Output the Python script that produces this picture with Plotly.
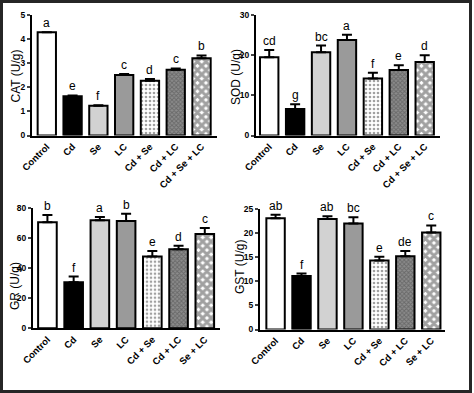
import plotly.graph_objects as go

W, H = 474, 393

cats_a = ["Control", "Cd", "Se", "LC", "Cd + Se", "Cd + LC", "Cd + Se + LC"]
cats_b = ["Control", "Cd", "Se", "LC", "Cd + Se", "Cd + LC", "Se + LC"]

cat_vals = [4.28, 1.63, 1.23, 2.51, 2.27, 2.73, 3.21]
cat_err = [0.0, 0.03, 0.03, 0.04, 0.07, 0.05, 0.11]
cat_let = ["a", "e", "f", "c", "d", "c", "b"]

sod_vals = [19.5, 6.6, 20.7, 23.8, 14.2, 16.3, 18.3]
sod_err = [1.8, 1.2, 1.7, 1.3, 1.4, 1.2, 1.7]
sod_let = ["cd", "g", "bc", "a", "f", "e", "d"]

gr_vals = [70.3, 30.5, 71.6, 71.2, 47.7, 52.4, 62.5]
gr_err = [4.8, 3.8, 2.2, 4.8, 3.6, 2.4, 4.0]
gr_let = ["b", "f", "a", "b", "e", "d", "c"]

gst_vals = [23.1, 11.1, 22.9, 22.0, 14.3, 15.2, 20.1]
gst_err = [0.7, 0.5, 0.6, 1.3, 0.8, 1.1, 1.5]
gst_let = ["ab", "f", "ab", "bc", "e", "de", "c"]

FONT = "Liberation Sans, Arial, sans-serif"

fills = ["#ffffff", "#000000", "#d2d2d2", "#9a9a9a", "#ffffff", "#8c8c8c", "#ffffff"]
pat_shapes = ["", "", "", "", ".", "x", "x"]
pat_fg = ["#000", "#000", "#000", "#000", "#8a8a8a", "#303030", "#000000"]
pat_size = [8, 8, 8, 8, 4, 3, 6]
pat_sol = [0.3, 0.3, 0.3, 0.3, 0.35, 0.5, 0.75]

panels = [
    dict(cats=cats_a, vals=cat_vals, err=cat_err, let=cat_let, title="CAT (U/g)",
         xd=(32, 217), yd=(135.5, 15), xr=(-0.574, 6.60), yr=(0, 5), dt=1,
         tpos=(15.5, 76)),
    dict(cats=cats_a, vals=sod_vals, err=sod_err, let=sod_let, title="SOD (U/g)",
         xd=(256, 440), yd=(135.5, 15), xr=(-0.51, 6.59), yr=(0, 30), dt=10,
         tpos=(236, 77)),
    dict(cats=cats_b, vals=gr_vals, err=gr_err, let=gr_let, title="GR (U/g)",
         xd=(33, 220), yd=(328.3, 207.7), xr=(-0.55, 6.58), yr=(0, 80), dt=20,
         tpos=(15, 286)),
    dict(cats=cats_b, vals=gst_vals, err=gst_err, let=gst_let, title="GST (U/g)",
         xd=(260, 445), yd=(329.5, 209), xr=(-0.6, 6.53), yr=(0, 25), dt=5,
         tpos=(240, 267)),
]

fig = go.Figure()
layout = dict(
    template="none",
    width=W, height=H, margin=dict(l=0, r=0, t=0, b=0, pad=0), autosize=False,
    paper_bgcolor="white", plot_bgcolor="white", showlegend=False,
    font=dict(family=FONT, color="black"),
    annotations=[], shapes=[],
)

for i, p in enumerate(panels):
    n = "" if i == 0 else str(i + 1)
    xa, ya = "x" + n, "y" + n
    fig.add_trace(go.Bar(
        x=p["cats"], y=p["vals"], xaxis=xa, yaxis=ya, width=0.71,
        marker=dict(
            color=fills,
            line=dict(color="black", width=2),
            pattern=dict(shape=pat_shapes, fgcolor=pat_fg, size=pat_size,
                         solidity=pat_sol, fillmode="overlay"),
        ),
        error_y=dict(type="data", symmetric=False, array=p["err"],
                     arrayminus=[0] * 7, color="black", thickness=2, width=5),
        hoverinfo="skip",
    ))
    layout["xaxis" + n] = dict(
        domain=[p["xd"][0] / W, p["xd"][1] / W], anchor=ya, automargin=False,
        range=list(p["xr"]), showline=True, linewidth=2, linecolor="black",
        ticks="", tickangle=-45, showgrid=False, zeroline=False,
        tickfont=dict(size=9.5, family=FONT, weight="bold"),
        categoryorder="array", categoryarray=p["cats"],
    )
    layout["yaxis" + n] = dict(
        domain=[(H - p["yd"][0]) / H, (H - p["yd"][1]) / H], anchor=xa,
        automargin=False,
        range=list(p["yr"]), dtick=p["dt"], showline=True, linewidth=2,
        linecolor="black", ticks="outside", ticklen=3, tickwidth=2,
        showgrid=False, zeroline=False,
        tickfont=dict(size=8.5, family=FONT, weight="bold"),
    )
    layout["annotations"].append(dict(
        text=p["title"], x=p["tpos"][0] / W, y=(H - p["tpos"][1]) / H,
        xref="paper", yref="paper", textangle=-90, showarrow=False,
        font=dict(size=12, family=FONT), xanchor="center", yanchor="middle",
    ))
    for c, v, e, l in zip(p["cats"], p["vals"], p["err"], p["let"]):
        layout["annotations"].append(dict(
            text=l, x=c, y=v + e, xref=xa, yref=ya, showarrow=False,
            yanchor="bottom", yshift=0, font=dict(size=12, family=FONT),
        ))

layout["shapes"].append(dict(
    type="rect", xref="paper", yref="paper",
    x0=1.5 / W, x1=470.5 / W, y0=1.5 / H, y1=(H - 1.5) / H,
    line=dict(color="#262626", width=3),
))

fig.update_layout(**layout)
fig.write_html(
    "out.html",
    config={"displayModeBar": False},
    post_script="document.body.style.margin='0';document.body.style.overflow='hidden';",
)
